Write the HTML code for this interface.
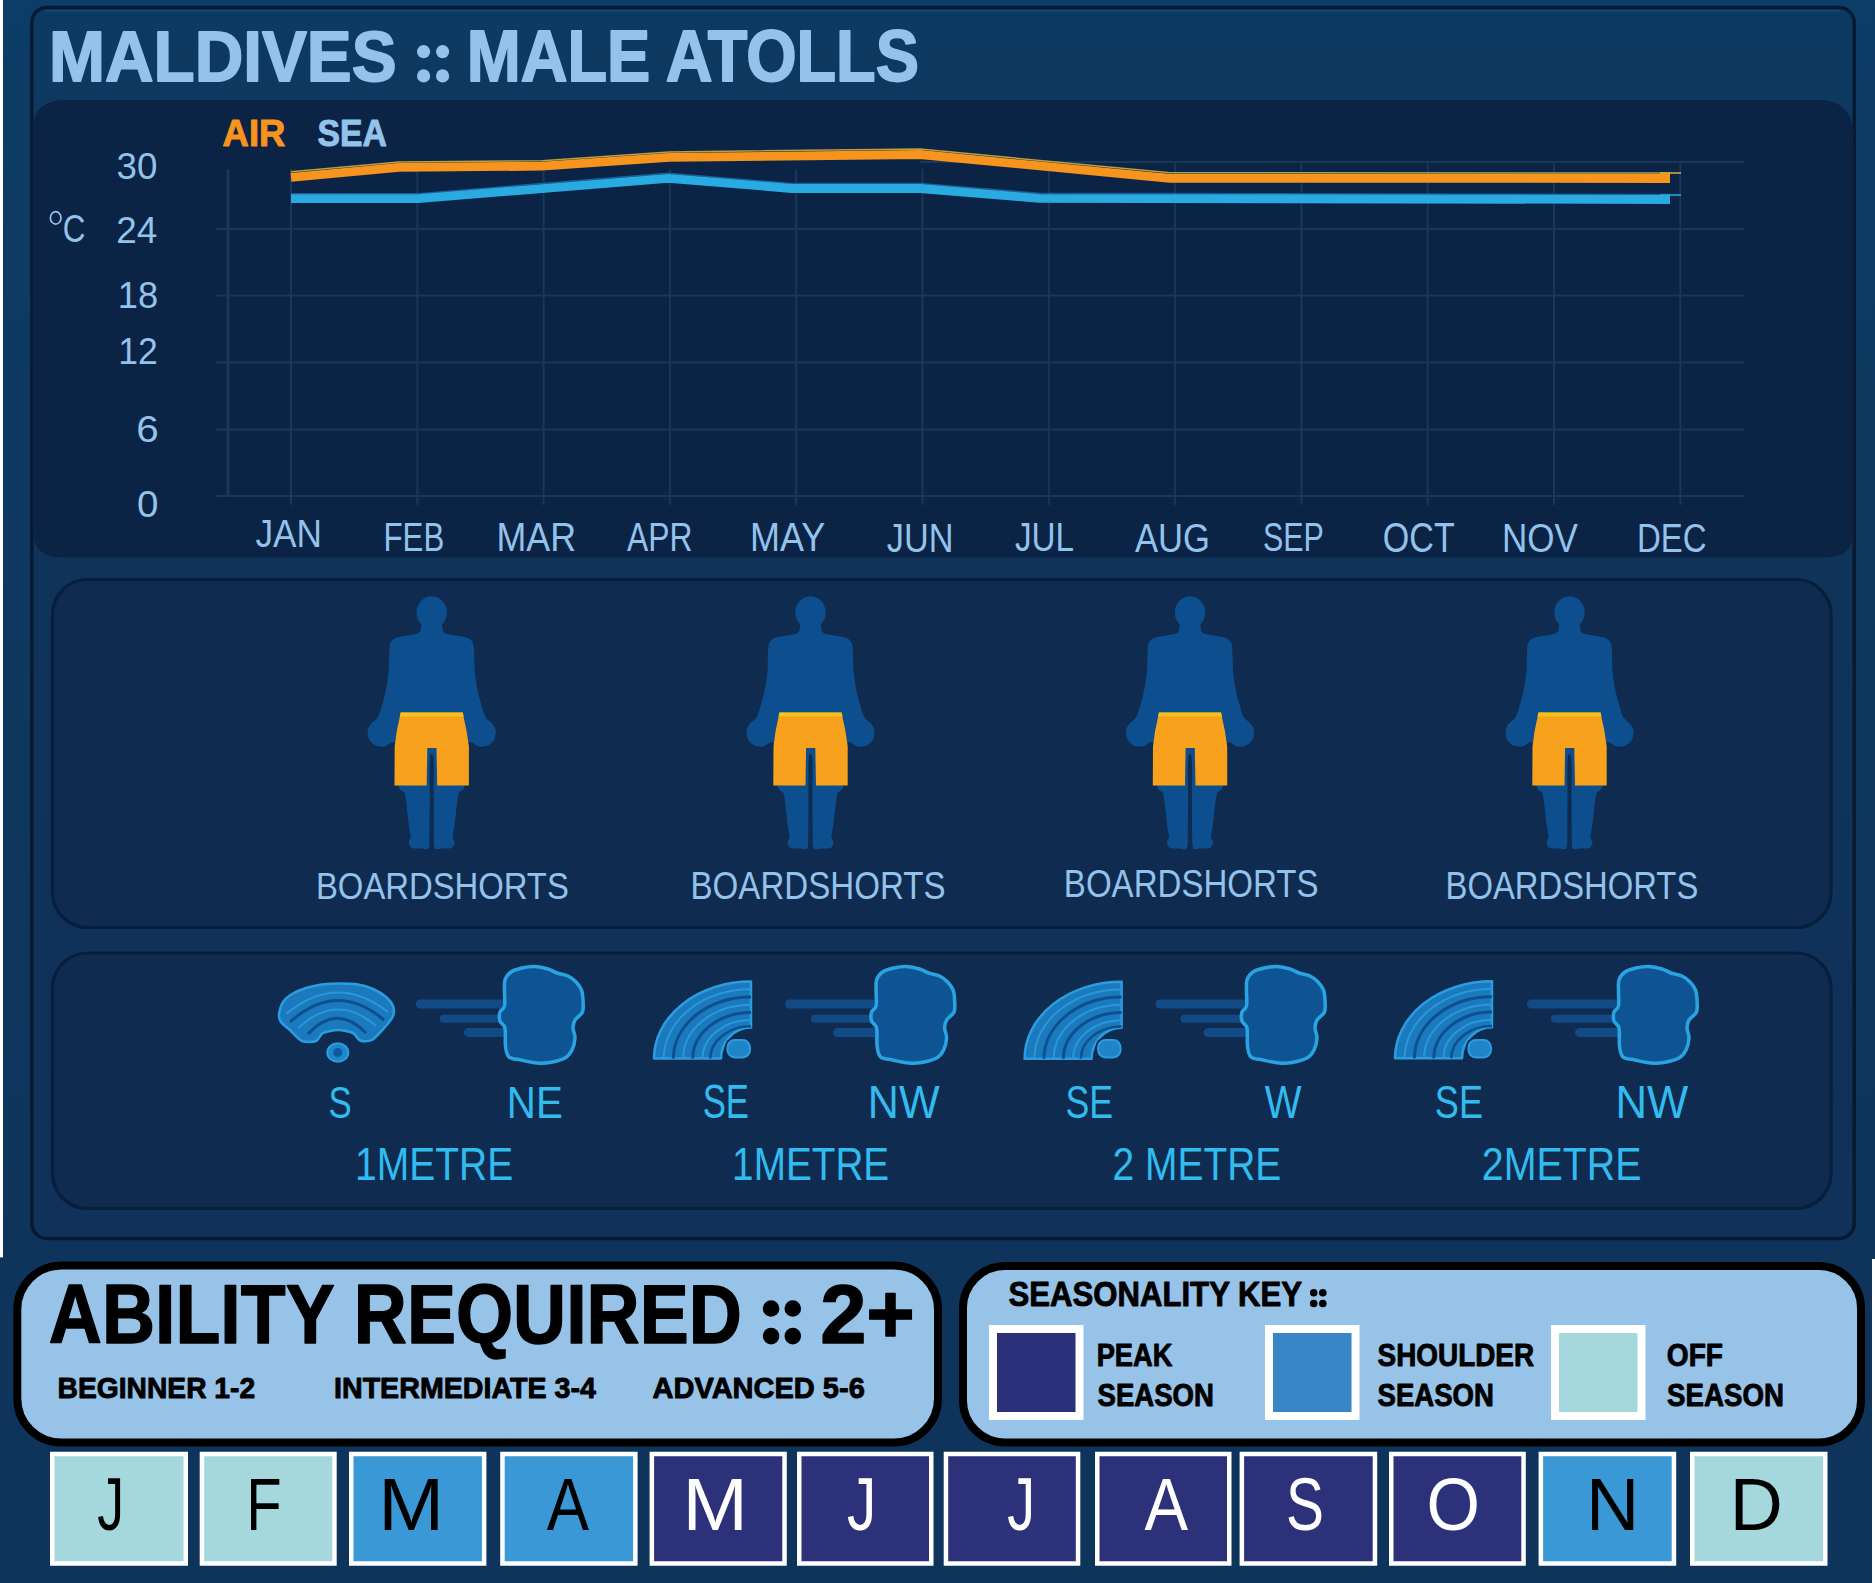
<!DOCTYPE html>
<html><head><meta charset="utf-8"><title>Maldives :: Male Atolls</title>
<style>
html,body{margin:0;padding:0;background:#0e345c;}
body{width:1875px;height:1583px;overflow:hidden;}
svg{display:block;font-family:"Liberation Sans",sans-serif;}
</style></head>
<body>
<svg width="1875" height="1583" viewBox="0 0 1875 1583">
<defs><linearGradient id="gm" x1="0" y1="0" x2="0" y2="1257" gradientUnits="userSpaceOnUse"><stop offset="0" stop-color="#0c3d66"/><stop offset="0.45" stop-color="#0e385f"/><stop offset="1" stop-color="#0e345c"/></linearGradient><linearGradient id="gp" x1="0" y1="10" x2="0" y2="1240" gradientUnits="userSpaceOnUse"><stop offset="0" stop-color="#0d3a62"/><stop offset="0.47" stop-color="#0f3359"/><stop offset="1" stop-color="#10315a"/></linearGradient></defs>
<rect x="0" y="0" width="1875" height="1583" fill="url(#gm)"/>
<rect x="0" y="0" width="3" height="1257.6" fill="#ffffff"/>
<rect x="1872" y="1259" width="3" height="324" fill="#ffffff"/>
<rect x="31.8" y="7.6" width="1822.4" height="1230.8" rx="15" fill="url(#gp)" stroke="#081a31" stroke-width="3.5"/>
<line x1="45" y1="10.8" x2="1840" y2="10.8" stroke="#134a7a" stroke-width="1.5"/>
<path d="M33 130 Q33 100 65 100 L1818 100 Q1853 100 1853 135 L1853 533 Q1853 557.5 1826 557.5 L62 557.5 Q33 557.5 33 530 Z" fill="#0b2345"/>
<rect x="52.5" y="579.5" width="1778.5" height="348.0" rx="35" fill="#102b50" stroke="#071f3c" stroke-width="3.2"/>
<rect x="52.5" y="953" width="1778.5" height="255.5" rx="35" fill="#102b50" stroke="#071f3c" stroke-width="3.2"/>
<line x1="920" y1="162" x2="1744" y2="162" stroke="#183759" stroke-width="2"/>
<line x1="216" y1="229" x2="1744" y2="229" stroke="#183759" stroke-width="2"/>
<line x1="216" y1="295.5" x2="1744" y2="295.5" stroke="#183759" stroke-width="2"/>
<line x1="216" y1="362.5" x2="1744" y2="362.5" stroke="#183759" stroke-width="2"/>
<line x1="216" y1="429.5" x2="1744" y2="429.5" stroke="#183759" stroke-width="2"/>
<line x1="216" y1="496" x2="1744" y2="496" stroke="#183759" stroke-width="2"/>
<line x1="228" y1="169" x2="228" y2="497" stroke="#183759" stroke-width="3"/>
<line x1="291.0" y1="169" x2="291.0" y2="505" stroke="#183759" stroke-width="2"/>
<line x1="417.3" y1="169" x2="417.3" y2="505" stroke="#183759" stroke-width="2"/>
<line x1="543.6" y1="169" x2="543.6" y2="505" stroke="#183759" stroke-width="2"/>
<line x1="669.9" y1="169" x2="669.9" y2="505" stroke="#183759" stroke-width="2"/>
<line x1="796.2" y1="169" x2="796.2" y2="505" stroke="#183759" stroke-width="2"/>
<line x1="922.5" y1="169" x2="922.5" y2="505" stroke="#183759" stroke-width="2"/>
<line x1="1048.8" y1="169" x2="1048.8" y2="505" stroke="#183759" stroke-width="2"/>
<line x1="1175.1" y1="162" x2="1175.1" y2="505" stroke="#183759" stroke-width="2"/>
<line x1="1301.4" y1="162" x2="1301.4" y2="505" stroke="#183759" stroke-width="2"/>
<line x1="1427.7" y1="162" x2="1427.7" y2="505" stroke="#183759" stroke-width="2"/>
<line x1="1554.0" y1="162" x2="1554.0" y2="505" stroke="#183759" stroke-width="2"/>
<line x1="1680.3" y1="162" x2="1680.3" y2="505" stroke="#183759" stroke-width="2"/>
<polyline points="291,171.8 399,161.9 542,160.7 669,151.9 920,149.0 1170,172.8 1670,173.0" fill="none" stroke="#b9a040" stroke-width="1.5"/>
<line x1="1660" y1="173" x2="1681" y2="173" stroke="#d8b43a" stroke-width="1.5"/>
<polyline points="291,177.3 399,167.4 542,166.2 669,157.4 920,154.5 1170,178.3 1670,178.5" fill="none" stroke="#f7941d" stroke-width="8.8" stroke-linejoin="round"/>
<polyline points="291,193.7 418,193.7 668,173.3 792,183.5 920,183.5 1039,193.3 1670,194.5" fill="none" stroke="#1c5f95" stroke-width="1.5"/>
<line x1="1660" y1="195" x2="1681" y2="195" stroke="#29abe2" stroke-width="1.5"/>
<polyline points="291,198.7 418,198.7 668,178.3 792,188.5 920,188.5 1039,198.3 1670,199.5" fill="none" stroke="#29abe2" stroke-width="8.8" stroke-linejoin="round"/>
<text transform="translate(49.03 81.10) scale(0.9434 1)" font-size="71.30" font-weight="bold" fill="#93c2ea"  stroke="#93c2ea" stroke-width="1.8" stroke-linejoin="round">MALDIVES</text>
<text transform="translate(466.69 81.10) scale(0.9087 1)" font-size="71.30" font-weight="bold" fill="#93c2ea"  stroke="#93c2ea" stroke-width="1.8" stroke-linejoin="round">MALE ATOLLS</text>
<circle cx="423.6" cy="51.6" r="6.6" fill="#93c2ea"/>
<circle cx="423.6" cy="75.9" r="6.6" fill="#93c2ea"/>
<circle cx="442.6" cy="51.6" r="6.6" fill="#93c2ea"/>
<circle cx="442.6" cy="75.9" r="6.6" fill="#93c2ea"/>
<text transform="translate(222.59 145.50) scale(0.9665 1)" font-size="37.68" font-weight="bold" fill="#f7941d"  stroke="#f7941d" stroke-width="1.0" stroke-linejoin="round">AIR</text>
<text transform="translate(317.49 145.63) scale(0.9042 1)" font-size="37.32" font-weight="bold" fill="#93c2ea"  stroke="#93c2ea" stroke-width="1.0" stroke-linejoin="round">SEA</text>
<text transform="translate(116.53 178.63) scale(1.0026 1)" font-size="36.62" font-weight="normal" fill="#93c2ea" >30</text>
<text transform="translate(116.16 242.50) scale(0.9745 1)" font-size="37.86" font-weight="normal" fill="#93c2ea" >24</text>
<text transform="translate(117.78 308.24) scale(1.0062 1)" font-size="36.06" font-weight="normal" fill="#93c2ea" >18</text>
<text transform="translate(118.14 364.40) scale(0.9641 1)" font-size="36.86" font-weight="normal" fill="#93c2ea" >12</text>
<text transform="translate(136.18 442.03) scale(1.0873 1)" font-size="37.18" font-weight="normal" fill="#93c2ea" >6</text>
<text transform="translate(136.96 516.63) scale(1.0525 1)" font-size="36.62" font-weight="normal" fill="#93c2ea" >0</text>
<text transform="translate(62.73 242.41) scale(0.8062 1)" font-size="38.87" font-weight="normal" fill="#93c2ea" >C</text>
<ellipse cx="55.7" cy="217.9" rx="5.3" ry="6.2" fill="none" stroke="#93c2ea" stroke-width="1.7"/>
<text transform="translate(255.47 547.00) scale(0.8896 1)" font-size="39.57" font-weight="normal" fill="#93c2ea" >JAN</text>
<text transform="translate(383.50 551.30) scale(0.7838 1)" font-size="39.86" font-weight="normal" fill="#93c2ea" >FEB</text>
<text transform="translate(496.54 551.30) scale(0.8982 1)" font-size="39.86" font-weight="normal" fill="#93c2ea" >MAR</text>
<text transform="translate(627.00 551.30) scale(0.7989 1)" font-size="39.86" font-weight="normal" fill="#93c2ea" >APR</text>
<text transform="translate(749.92 551.30) scale(0.9040 1)" font-size="39.86" font-weight="normal" fill="#93c2ea" >MAY</text>
<text transform="translate(886.79 552.00) scale(0.8395 1)" font-size="40.87" font-weight="normal" fill="#93c2ea" >JUN</text>
<text transform="translate(1014.90 551.30) scale(0.8354 1)" font-size="39.86" font-weight="normal" fill="#93c2ea" >JUL</text>
<text transform="translate(1135.00 552.00) scale(0.8467 1)" font-size="40.87" font-weight="normal" fill="#93c2ea" >AUG</text>
<text transform="translate(1262.93 551.30) scale(0.7639 1)" font-size="39.86" font-weight="normal" fill="#93c2ea" >SEP</text>
<text transform="translate(1382.77 552.00) scale(0.8194 1)" font-size="41.59" font-weight="normal" fill="#93c2ea" >OCT</text>
<text transform="translate(1501.90 552.00) scale(0.8426 1)" font-size="41.59" font-weight="normal" fill="#93c2ea" >NOV</text>
<text transform="translate(1636.97 552.00) scale(0.7918 1)" font-size="41.59" font-weight="normal" fill="#93c2ea" >DEC</text>
<defs><filter id="soft" x="-5%" y="-5%" width="110%" height="110%"><feGaussianBlur stdDeviation="0.55"/></filter>
<g id="fig" filter="url(#soft)"><g fill="#0b4f8e"><path d="M-9.00,22.00 C-11.93,23.35 -9.90,28.82 -10.50,31.00 C-11.10,33.17 -10.97,35.30 -13.00,36.50 C-15.03,37.70 -20.55,38.25 -24.00,39.00 C-27.45,39.75 -33.38,40.30 -36.00,41.50 C-38.62,42.70 -40.52,44.52 -41.50,47.00 C-42.48,49.48 -42.27,53.95 -42.50,58.00 C-42.73,62.05 -42.55,68.90 -43.00,74.00 C-43.45,79.10 -44.52,86.90 -45.50,92.00 C-46.48,97.10 -48.23,103.65 -49.50,108.00 C-50.77,112.35 -52.35,118.15 -54.00,121.00 C-55.65,123.85 -59.00,125.05 -60.50,127.00 C-62.00,128.95 -63.70,131.60 -64.00,134.00 C-64.30,136.40 -63.70,140.75 -62.50,143.00 C-61.30,145.25 -58.33,147.95 -56.00,149.00 C-53.67,150.05 -49.40,150.45 -47.00,150.00 C-44.60,149.55 -41.65,146.00 -40.00,146.00 C-38.35,146.00 -37.05,143.55 -36.00,150.00 C-34.95,156.45 -34.35,181.95 -33.00,189.00 C-31.65,196.05 -28.27,193.25 -27.00,197.00 C-25.73,200.75 -25.10,209.35 -24.50,214.00 C-23.90,218.65 -23.52,224.10 -23.00,228.00 C-22.48,231.90 -21.00,237.30 -21.00,240.00 C-21.00,242.70 -23.15,244.28 -23.00,246.00 C-22.85,247.72 -21.95,250.60 -20.00,251.50 C-18.05,252.40 -12.55,252.00 -10.00,252.00 C-7.45,252.00 -4.17,254.05 -3.00,251.50 C-1.83,248.95 -2.35,241.97 -2.20,235.00 C-2.05,228.03 -2.06,215.95 -2.00,205.00 C-1.94,194.05 -2.37,168.45 -1.80,162.00 C-1.23,155.55 1.23,155.55 1.80,162.00 C2.37,168.45 1.94,194.05 2.00,205.00 C2.06,215.95 2.05,228.03 2.20,235.00 C2.35,241.97 1.83,248.95 3.00,251.50 C4.17,254.05 7.45,252.00 10.00,252.00 C12.55,252.00 18.05,252.40 20.00,251.50 C21.95,250.60 22.85,247.72 23.00,246.00 C23.15,244.28 21.00,242.70 21.00,240.00 C21.00,237.30 22.48,231.90 23.00,228.00 C23.52,224.10 23.90,218.65 24.50,214.00 C25.10,209.35 25.73,200.75 27.00,197.00 C28.27,193.25 31.65,196.05 33.00,189.00 C34.35,181.95 34.95,156.45 36.00,150.00 C37.05,143.55 38.35,146.00 40.00,146.00 C41.65,146.00 44.60,149.55 47.00,150.00 C49.40,150.45 53.67,150.05 56.00,149.00 C58.33,147.95 61.30,145.25 62.50,143.00 C63.70,140.75 64.30,136.40 64.00,134.00 C63.70,131.60 62.00,128.95 60.50,127.00 C59.00,125.05 55.65,123.85 54.00,121.00 C52.35,118.15 50.77,112.35 49.50,108.00 C48.23,103.65 46.48,97.10 45.50,92.00 C44.52,86.90 43.45,79.10 43.00,74.00 C42.55,68.90 42.73,62.05 42.50,58.00 C42.27,53.95 42.48,49.48 41.50,47.00 C40.52,44.52 38.62,42.70 36.00,41.50 C33.38,40.30 27.45,39.75 24.00,39.00 C20.55,38.25 15.03,37.70 13.00,36.50 C10.97,35.30 11.10,33.17 10.50,31.00 C9.90,28.82 11.93,23.35 9.00,22.00 C6.07,20.65 -6.07,20.65 -9.00,22.00 Z"/><ellipse cx="0" cy="16" rx="15.2" ry="16.2"/></g><path d="M-31,116 L31,116 L35,135 L37.2,150 L37.2,189 L5.5,189 L4.8,151.5 L-4.4,151.5 L-5,189 L-37.2,189 L-37,150 L-35,135 Z" fill="#f7a11d"/><path d="M-31,116 L31,116 L32,120 L-32,120 Z" fill="#f4c21a"/></g>
</defs>
<use href="#fig" transform="translate(431.7 596.5)"/>
<use href="#fig" transform="translate(810.5 596.5)"/>
<use href="#fig" transform="translate(1190 596.5)"/>
<use href="#fig" transform="translate(1569.5 596.5)"/>
<text transform="translate(315.97 898.63) scale(0.8798 1)" font-size="37.32" font-weight="normal" fill="#93c2ea" >BOARDSHORTS</text>
<text transform="translate(690.55 898.82) scale(0.8672 1)" font-size="38.17" font-weight="normal" fill="#93c2ea" >BOARDSHORTS</text>
<text transform="translate(1063.86 897.02) scale(0.8694 1)" font-size="38.03" font-weight="normal" fill="#93c2ea" >BOARDSHORTS</text>
<text transform="translate(1445.58 898.82) scale(0.8561 1)" font-size="38.31" font-weight="normal" fill="#93c2ea" >BOARDSHORTS</text>
<path d="M279.00,1014.00 C279.27,1011.33 281.27,1004.67 283.00,1002.00 C284.73,999.33 288.93,995.87 292.00,994.00 C295.07,992.13 302.00,989.27 306.00,988.00 C310.00,986.73 317.47,985.10 322.00,984.50 C326.53,983.90 335.20,983.50 340.00,983.50 C344.80,983.50 353.60,983.77 358.00,984.50 C362.40,985.23 369.27,987.33 373.00,989.00 C376.73,990.67 383.33,994.73 386.00,997.00 C388.67,999.27 392.07,1003.47 393.00,1006.00 C393.93,1008.53 394.07,1013.20 393.00,1016.00 C391.93,1018.80 387.80,1023.80 385.00,1027.00 C382.20,1030.20 375.33,1038.20 372.00,1040.00 C368.67,1041.80 362.53,1041.43 360.00,1040.50 C357.47,1039.57 355.93,1034.40 353.00,1033.00 C350.07,1031.60 342.00,1030.00 338.00,1030.00 C334.00,1030.00 325.93,1031.53 323.00,1033.00 C320.07,1034.47 318.80,1039.93 316.00,1041.00 C313.20,1042.07 305.47,1042.47 302.00,1041.00 C298.53,1039.53 292.80,1032.53 290.00,1030.00 C287.20,1027.47 282.47,1024.13 281.00,1022.00 C279.53,1019.87 278.73,1016.67 279.00,1014.00 Z" fill="#1b79bd" stroke="#2a9de0" stroke-width="2.5" stroke-linejoin="round"/><path d="M286,1014 Q337,972 388,1012" fill="none" stroke="#2b96d8" stroke-width="2"/><path d="M290,1022 Q337,980 384,1020" fill="none" stroke="#0e4f8e" stroke-width="3"/><path d="M298,1028 Q337,992 376,1026" fill="none" stroke="#2b96d8" stroke-width="2"/><path d="M308,1034 Q337,1003 366,1033" fill="none" stroke="#0e4f8e" stroke-width="3"/>
<ellipse cx="337.8" cy="1052.5" rx="10.5" ry="9.3" fill="#1f84c8" stroke="#2a9de0" stroke-width="2"/>
<circle cx="337.8" cy="1052.5" r="4.5" fill="#0e5a9c"/>
<path d="M654,1058.6 A97,77 0 0 1 751,981.5999999999999 L751,1027.6 A30,31 0 0 0 721,1058.6 Z" fill="#1b79bd" stroke="#2a9de0" stroke-width="2.5" stroke-linejoin="round"/><path d="M663.7,1058.6 A87.3,69.3 0 0 1 751,989.3" fill="none" stroke="#2b96d8" stroke-width="2"/><path d="M673.4,1058.6 A77.6,61.6 0 0 1 751,997.0" fill="none" stroke="#0e4f8e" stroke-width="3"/><path d="M683.1,1058.6 A67.9,53.9 0 0 1 751,1004.7" fill="none" stroke="#2b96d8" stroke-width="2"/><path d="M692.8,1058.6 A58.2,46.2 0 0 1 751,1012.4" fill="none" stroke="#0e4f8e" stroke-width="3"/><path d="M702.5,1058.6 A48.5,38.5 0 0 1 751,1020.1" fill="none" stroke="#2b96d8" stroke-width="2"/><path d="M710.3,1058.6 A40.7,32.3 0 0 1 751,1026.3" fill="none" stroke="#0e4f8e" stroke-width="2.5"/>
<rect x="725" y="1037.5" width="26.5" height="22" rx="9" fill="#102b50"/>
<rect x="727.5" y="1040" width="22.5" height="17.5" rx="7.5" fill="#1f84c8" stroke="#2a9de0" stroke-width="2"/>
<path d="M1024.6,1058.7 A97,77 0 0 1 1121.6,981.7 L1121.6,1027.7 A30,31 0 0 0 1091.6,1058.7 Z" fill="#1b79bd" stroke="#2a9de0" stroke-width="2.5" stroke-linejoin="round"/><path d="M1034.3,1058.7 A87.3,69.3 0 0 1 1121.6,989.4" fill="none" stroke="#2b96d8" stroke-width="2"/><path d="M1044.0,1058.7 A77.6,61.6 0 0 1 1121.6,997.1" fill="none" stroke="#0e4f8e" stroke-width="3"/><path d="M1053.7,1058.7 A67.9,53.9 0 0 1 1121.6,1004.8" fill="none" stroke="#2b96d8" stroke-width="2"/><path d="M1063.4,1058.7 A58.2,46.2 0 0 1 1121.6,1012.5" fill="none" stroke="#0e4f8e" stroke-width="3"/><path d="M1073.1,1058.7 A48.5,38.5 0 0 1 1121.6,1020.2" fill="none" stroke="#2b96d8" stroke-width="2"/><path d="M1080.9,1058.7 A40.7,32.3 0 0 1 1121.6,1026.4" fill="none" stroke="#0e4f8e" stroke-width="2.5"/>
<rect x="1095.6" y="1037.5" width="26.5" height="22" rx="9" fill="#102b50"/>
<rect x="1098.1" y="1040" width="22.5" height="17.5" rx="7.5" fill="#1f84c8" stroke="#2a9de0" stroke-width="2"/>
<path d="M1395,1058.3 A97,77 0 0 1 1492,981.3 L1492,1027.3 A30,31 0 0 0 1462,1058.3 Z" fill="#1b79bd" stroke="#2a9de0" stroke-width="2.5" stroke-linejoin="round"/><path d="M1404.7,1058.3 A87.3,69.3 0 0 1 1492,989.0" fill="none" stroke="#2b96d8" stroke-width="2"/><path d="M1414.4,1058.3 A77.6,61.6 0 0 1 1492,996.7" fill="none" stroke="#0e4f8e" stroke-width="3"/><path d="M1424.1,1058.3 A67.9,53.9 0 0 1 1492,1004.4" fill="none" stroke="#2b96d8" stroke-width="2"/><path d="M1433.8,1058.3 A58.2,46.2 0 0 1 1492,1012.1" fill="none" stroke="#0e4f8e" stroke-width="3"/><path d="M1443.5,1058.3 A48.5,38.5 0 0 1 1492,1019.8" fill="none" stroke="#2b96d8" stroke-width="2"/><path d="M1451.3,1058.3 A40.7,32.3 0 0 1 1492,1026.0" fill="none" stroke="#0e4f8e" stroke-width="2.5"/>
<rect x="1466" y="1037.5" width="26.5" height="22" rx="9" fill="#102b50"/>
<rect x="1468.5" y="1040" width="22.5" height="17.5" rx="7.5" fill="#1f84c8" stroke="#2a9de0" stroke-width="2"/>
<line x1="420.3" y1="1004" x2="507" y2="1004" stroke="#114a85" stroke-width="9" stroke-linecap="round"/><line x1="443.8" y1="1018.7" x2="507" y2="1018.7" stroke="#114a85" stroke-width="8" stroke-linecap="round"/><line x1="468.3" y1="1032.6" x2="507" y2="1032.6" stroke="#114a85" stroke-width="9" stroke-linecap="round"/>
<path d="M6.00,14.00 C7.08,10.83 9.17,8.00 12.00,6.00 C14.83,4.00 19.00,2.92 23.00,2.00 C27.00,1.08 31.67,0.33 36.00,0.50 C40.33,0.67 45.33,1.92 49.00,3.00 C52.67,4.08 54.67,5.83 58.00,7.00 C61.33,8.17 65.83,8.50 69.00,10.00 C72.17,11.50 74.75,13.67 77.00,16.00 C79.25,18.33 81.33,21.00 82.50,24.00 C83.67,27.00 83.83,30.33 84.00,34.00 C84.17,37.67 84.83,42.67 83.50,46.00 C82.17,49.33 77.58,51.33 76.00,54.00 C74.42,56.67 74.00,59.00 74.00,62.00 C74.00,65.00 76.17,68.33 76.00,72.00 C75.83,75.67 74.67,80.67 73.00,84.00 C71.33,87.33 69.67,89.92 66.00,92.00 C62.33,94.08 55.67,95.67 51.00,96.50 C46.33,97.33 42.83,97.42 38.00,97.00 C33.17,96.58 26.67,95.00 22.00,94.00 C17.33,93.00 12.58,93.33 10.00,91.00 C7.42,88.67 7.17,84.83 6.50,80.00 C5.83,75.17 6.92,66.17 6.00,62.00 C5.08,57.83 1.83,57.67 1.00,55.00 C0.17,52.33 0.25,48.50 1.00,46.00 C1.75,43.50 4.75,43.50 5.50,40.00 C6.25,36.50 5.42,29.33 5.50,25.00 C5.58,20.67 4.92,17.17 6.00,14.00 Z" transform="translate(499 966)" fill="#0e5493" stroke="#2aa3e3" stroke-width="3.5" stroke-linejoin="round"/>
<line x1="789.5" y1="1004" x2="878.6" y2="1004" stroke="#114a85" stroke-width="9" stroke-linecap="round"/><line x1="815.0" y1="1018.7" x2="878.6" y2="1018.7" stroke="#114a85" stroke-width="8" stroke-linecap="round"/><line x1="837.5" y1="1032.6" x2="878.6" y2="1032.6" stroke="#114a85" stroke-width="9" stroke-linecap="round"/>
<path d="M6.00,14.00 C7.08,10.83 9.17,8.00 12.00,6.00 C14.83,4.00 19.00,2.92 23.00,2.00 C27.00,1.08 31.67,0.33 36.00,0.50 C40.33,0.67 45.33,1.92 49.00,3.00 C52.67,4.08 54.67,5.83 58.00,7.00 C61.33,8.17 65.83,8.50 69.00,10.00 C72.17,11.50 74.75,13.67 77.00,16.00 C79.25,18.33 81.33,21.00 82.50,24.00 C83.67,27.00 83.83,30.33 84.00,34.00 C84.17,37.67 84.83,42.67 83.50,46.00 C82.17,49.33 77.58,51.33 76.00,54.00 C74.42,56.67 74.00,59.00 74.00,62.00 C74.00,65.00 76.17,68.33 76.00,72.00 C75.83,75.67 74.67,80.67 73.00,84.00 C71.33,87.33 69.67,89.92 66.00,92.00 C62.33,94.08 55.67,95.67 51.00,96.50 C46.33,97.33 42.83,97.42 38.00,97.00 C33.17,96.58 26.67,95.00 22.00,94.00 C17.33,93.00 12.58,93.33 10.00,91.00 C7.42,88.67 7.17,84.83 6.50,80.00 C5.83,75.17 6.92,66.17 6.00,62.00 C5.08,57.83 1.83,57.67 1.00,55.00 C0.17,52.33 0.25,48.50 1.00,46.00 C1.75,43.50 4.75,43.50 5.50,40.00 C6.25,36.50 5.42,29.33 5.50,25.00 C5.58,20.67 4.92,17.17 6.00,14.00 Z" transform="translate(870.6 966)" fill="#0e5493" stroke="#2aa3e3" stroke-width="3.5" stroke-linejoin="round"/>
<line x1="1160.0" y1="1004" x2="1249" y2="1004" stroke="#114a85" stroke-width="9" stroke-linecap="round"/><line x1="1184.5" y1="1018.7" x2="1249" y2="1018.7" stroke="#114a85" stroke-width="8" stroke-linecap="round"/><line x1="1208.0" y1="1032.6" x2="1249" y2="1032.6" stroke="#114a85" stroke-width="9" stroke-linecap="round"/>
<path d="M6.00,14.00 C7.08,10.83 9.17,8.00 12.00,6.00 C14.83,4.00 19.00,2.92 23.00,2.00 C27.00,1.08 31.67,0.33 36.00,0.50 C40.33,0.67 45.33,1.92 49.00,3.00 C52.67,4.08 54.67,5.83 58.00,7.00 C61.33,8.17 65.83,8.50 69.00,10.00 C72.17,11.50 74.75,13.67 77.00,16.00 C79.25,18.33 81.33,21.00 82.50,24.00 C83.67,27.00 83.83,30.33 84.00,34.00 C84.17,37.67 84.83,42.67 83.50,46.00 C82.17,49.33 77.58,51.33 76.00,54.00 C74.42,56.67 74.00,59.00 74.00,62.00 C74.00,65.00 76.17,68.33 76.00,72.00 C75.83,75.67 74.67,80.67 73.00,84.00 C71.33,87.33 69.67,89.92 66.00,92.00 C62.33,94.08 55.67,95.67 51.00,96.50 C46.33,97.33 42.83,97.42 38.00,97.00 C33.17,96.58 26.67,95.00 22.00,94.00 C17.33,93.00 12.58,93.33 10.00,91.00 C7.42,88.67 7.17,84.83 6.50,80.00 C5.83,75.17 6.92,66.17 6.00,62.00 C5.08,57.83 1.83,57.67 1.00,55.00 C0.17,52.33 0.25,48.50 1.00,46.00 C1.75,43.50 4.75,43.50 5.50,40.00 C6.25,36.50 5.42,29.33 5.50,25.00 C5.58,20.67 4.92,17.17 6.00,14.00 Z" transform="translate(1241 966)" fill="#0e5493" stroke="#2aa3e3" stroke-width="3.5" stroke-linejoin="round"/>
<line x1="1531.5" y1="1004" x2="1621" y2="1004" stroke="#114a85" stroke-width="9" stroke-linecap="round"/><line x1="1555.0" y1="1018.7" x2="1621" y2="1018.7" stroke="#114a85" stroke-width="8" stroke-linecap="round"/><line x1="1579.5" y1="1032.6" x2="1621" y2="1032.6" stroke="#114a85" stroke-width="9" stroke-linecap="round"/>
<path d="M6.00,14.00 C7.08,10.83 9.17,8.00 12.00,6.00 C14.83,4.00 19.00,2.92 23.00,2.00 C27.00,1.08 31.67,0.33 36.00,0.50 C40.33,0.67 45.33,1.92 49.00,3.00 C52.67,4.08 54.67,5.83 58.00,7.00 C61.33,8.17 65.83,8.50 69.00,10.00 C72.17,11.50 74.75,13.67 77.00,16.00 C79.25,18.33 81.33,21.00 82.50,24.00 C83.67,27.00 83.83,30.33 84.00,34.00 C84.17,37.67 84.83,42.67 83.50,46.00 C82.17,49.33 77.58,51.33 76.00,54.00 C74.42,56.67 74.00,59.00 74.00,62.00 C74.00,65.00 76.17,68.33 76.00,72.00 C75.83,75.67 74.67,80.67 73.00,84.00 C71.33,87.33 69.67,89.92 66.00,92.00 C62.33,94.08 55.67,95.67 51.00,96.50 C46.33,97.33 42.83,97.42 38.00,97.00 C33.17,96.58 26.67,95.00 22.00,94.00 C17.33,93.00 12.58,93.33 10.00,91.00 C7.42,88.67 7.17,84.83 6.50,80.00 C5.83,75.17 6.92,66.17 6.00,62.00 C5.08,57.83 1.83,57.67 1.00,55.00 C0.17,52.33 0.25,48.50 1.00,46.00 C1.75,43.50 4.75,43.50 5.50,40.00 C6.25,36.50 5.42,29.33 5.50,25.00 C5.58,20.67 4.92,17.17 6.00,14.00 Z" transform="translate(1613 966)" fill="#0e5493" stroke="#2aa3e3" stroke-width="3.5" stroke-linejoin="round"/>
<text transform="translate(328.43 1117.50) scale(0.7869 1)" font-size="44.20" font-weight="normal" fill="#31bbee" >S</text>
<text transform="translate(506.77 1117.50) scale(0.9121 1)" font-size="44.20" font-weight="normal" fill="#31bbee" >NE</text>
<text transform="translate(355.08 1180.00) scale(0.8567 1)" font-size="45.51" font-weight="normal" fill="#31bbee" >1METRE</text>
<text transform="translate(702.74 1118.40) scale(0.7322 1)" font-size="47.39" font-weight="normal" fill="#31bbee" >SE</text>
<text transform="translate(867.85 1118.00) scale(0.9441 1)" font-size="45.65" font-weight="normal" fill="#31bbee" >NW</text>
<text transform="translate(732.10 1180.40) scale(0.8325 1)" font-size="46.52" font-weight="normal" fill="#31bbee" >1METRE</text>
<text transform="translate(1065.39 1118.40) scale(0.7731 1)" font-size="46.23" font-weight="normal" fill="#31bbee" >SE</text>
<text transform="translate(1264.80 1118.00) scale(0.8551 1)" font-size="45.65" font-weight="normal" fill="#31bbee" >W</text>
<text transform="translate(1112.55 1180.40) scale(0.8557 1)" font-size="45.51" font-weight="normal" fill="#31bbee" >2 METRE</text>
<text transform="translate(1434.87 1118.40) scale(0.7818 1)" font-size="46.23" font-weight="normal" fill="#31bbee" >SE</text>
<text transform="translate(1615.51 1118.00) scale(0.9566 1)" font-size="45.65" font-weight="normal" fill="#31bbee" >NW</text>
<text transform="translate(1481.83 1180.40) scale(0.8657 1)" font-size="45.51" font-weight="normal" fill="#31bbee" >2METRE</text>
<rect x="0" y="1257.6" width="1872" height="326" fill="#0e345c"/>
<rect x="17.3" y="1265.5" width="920.7" height="177" rx="44" fill="#97c3e8" stroke="#000" stroke-width="8"/>
<rect x="963" y="1266" width="898" height="176.5" rx="42" fill="#97c3e8" stroke="#000" stroke-width="8"/>
<text transform="translate(48.86 1343.30) scale(0.8777 1)" font-size="83.77" font-weight="bold" fill="#000"  stroke="#000" stroke-width="1.4" stroke-linejoin="round">ABILITY REQUIRED</text>
<text transform="translate(820.19 1343.30) scale(1.0052 1)" font-size="82.57" font-weight="bold" fill="#000"  stroke="#000" stroke-width="1.4" stroke-linejoin="round">2+</text>
<circle cx="771.1" cy="1308.5" r="8.3" fill="#000"/>
<circle cx="771.1" cy="1336.1" r="8.3" fill="#000"/>
<circle cx="792.8" cy="1308.5" r="8.3" fill="#000"/>
<circle cx="792.8" cy="1336.1" r="8.3" fill="#000"/>
<text transform="translate(57.62 1398.25) scale(0.9363 1)" font-size="30.14" font-weight="bold" fill="#000"  stroke="#000" stroke-width="0.9" stroke-linejoin="round">BEGINNER 1-2</text>
<text transform="translate(333.99 1398.25) scale(0.9506 1)" font-size="30.14" font-weight="bold" fill="#000"  stroke="#000" stroke-width="0.9" stroke-linejoin="round">INTERMEDIATE 3-4</text>
<text transform="translate(652.52 1398.25) scale(0.9630 1)" font-size="30.14" font-weight="bold" fill="#000"  stroke="#000" stroke-width="0.9" stroke-linejoin="round">ADVANCED 5-6</text>
<text transform="translate(1008.52 1306.40) scale(0.9021 1)" font-size="34.51" font-weight="bold" fill="#000"  stroke="#000" stroke-width="0.9" stroke-linejoin="round">SEASONALITY KEY</text>
<circle cx="1313.7" cy="1292.7" r="3.8" fill="#000"/>
<circle cx="1313.7" cy="1303.5" r="3.8" fill="#000"/>
<circle cx="1322.8" cy="1292.7" r="3.8" fill="#000"/>
<circle cx="1322.8" cy="1303.5" r="3.8" fill="#000"/>
<rect x="993" y="1329" width="86.5" height="87" fill="#2c307a" stroke="#fff" stroke-width="8"/>
<rect x="1269" y="1329" width="86.5" height="87" fill="#3886c8" stroke="#fff" stroke-width="8"/>
<rect x="1555" y="1329" width="86.5" height="87" fill="#a4d8dc" stroke="#fff" stroke-width="8"/>
<text transform="translate(1096.68 1366.05) scale(0.8511 1)" font-size="32.03" font-weight="bold" fill="#000"  stroke="#000" stroke-width="0.9" stroke-linejoin="round">PEAK</text>
<text transform="translate(1097.62 1405.55) scale(0.8797 1)" font-size="31.30" font-weight="bold" fill="#000"  stroke="#000" stroke-width="0.9" stroke-linejoin="round">SEASON</text>
<text transform="translate(1377.61 1366.05) scale(0.8710 1)" font-size="32.03" font-weight="bold" fill="#000"  stroke="#000" stroke-width="0.9" stroke-linejoin="round">SHOULDER</text>
<text transform="translate(1377.62 1405.55) scale(0.8797 1)" font-size="31.30" font-weight="bold" fill="#000"  stroke="#000" stroke-width="0.9" stroke-linejoin="round">SEASON</text>
<text transform="translate(1666.83 1366.05) scale(0.8775 1)" font-size="32.03" font-weight="bold" fill="#000"  stroke="#000" stroke-width="0.9" stroke-linejoin="round">OFF</text>
<text transform="translate(1667.12 1405.55) scale(0.8836 1)" font-size="31.30" font-weight="bold" fill="#000"  stroke="#000" stroke-width="0.9" stroke-linejoin="round">SEASON</text>
<rect x="52.25" y="1454" width="133.5" height="109.5" fill="#a4d8dc" stroke="#fff" stroke-width="4.5"/>
<text transform="translate(97.20 1530.40) scale(0.7260 1)" font-size="73.91" font-weight="normal" fill="#000" >J</text>
<rect x="201.95" y="1454" width="132.5" height="109.5" fill="#a4d8dc" stroke="#fff" stroke-width="4.5"/>
<text transform="translate(246.16 1530.40) scale(0.7842 1)" font-size="73.91" font-weight="normal" fill="#000" >F</text>
<rect x="351.25" y="1454" width="132.89999999999998" height="109.5" fill="#3b98d6" stroke="#fff" stroke-width="4.5"/>
<text transform="translate(378.17 1530.40) scale(1.0702 1)" font-size="73.91" font-weight="normal" fill="#000" >M</text>
<rect x="502.45" y="1454" width="132.90000000000003" height="109.5" fill="#3b98d6" stroke="#fff" stroke-width="4.5"/>
<text transform="translate(546.80 1530.40) scale(0.8586 1)" font-size="73.91" font-weight="normal" fill="#000" >A</text>
<rect x="651.85" y="1454" width="132.69999999999993" height="109.5" fill="#2c3179" stroke="#fff" stroke-width="4.5"/>
<text transform="translate(682.52 1530.40) scale(1.0622 1)" font-size="73.91" font-weight="normal" fill="#fff" >M</text>
<rect x="799.25" y="1454" width="132.0" height="109.5" fill="#2c3179" stroke="#fff" stroke-width="4.5"/>
<text transform="translate(847.12 1530.40) scale(0.7920 1)" font-size="73.91" font-weight="normal" fill="#fff" >J</text>
<rect x="945.95" y="1454" width="132.0999999999999" height="109.5" fill="#2c3179" stroke="#fff" stroke-width="4.5"/>
<text transform="translate(1007.17 1530.40) scale(0.7524 1)" font-size="73.91" font-weight="normal" fill="#fff" >J</text>
<rect x="1097.25" y="1454" width="132.0" height="109.5" fill="#2c3179" stroke="#fff" stroke-width="4.5"/>
<text transform="translate(1144.40 1530.40) scale(0.8830 1)" font-size="73.91" font-weight="normal" fill="#fff" >A</text>
<rect x="1241.85" y="1454" width="133.10000000000014" height="109.5" fill="#2c3179" stroke="#fff" stroke-width="4.5"/>
<text transform="translate(1285.94 1530.40) scale(0.7694 1)" font-size="73.91" font-weight="normal" fill="#fff" >S</text>
<rect x="1391.25" y="1454" width="132.29999999999995" height="109.5" fill="#2c3179" stroke="#fff" stroke-width="4.5"/>
<text transform="translate(1426.41 1530.40) scale(0.9303 1)" font-size="73.91" font-weight="normal" fill="#fff" >O</text>
<rect x="1540.85" y="1454" width="133.10000000000014" height="109.5" fill="#3b98d6" stroke="#fff" stroke-width="4.5"/>
<text transform="translate(1586.00 1530.40) scale(0.9978 1)" font-size="73.91" font-weight="normal" fill="#000" >N</text>
<rect x="1692.25" y="1454" width="133.0" height="109.5" fill="#a4d8dc" stroke="#fff" stroke-width="4.5"/>
<text transform="translate(1729.82 1530.40) scale(0.9937 1)" font-size="73.91" font-weight="normal" fill="#000" >D</text>
</svg>
</body></html>
